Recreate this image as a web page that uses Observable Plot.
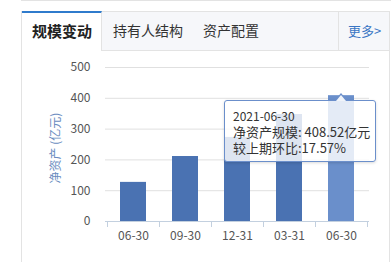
<!DOCTYPE html>
<html><head><meta charset="utf-8">
<script src="https://cdn.jsdelivr.net/npm/d3@7"></script>
<script src="https://cdn.jsdelivr.net/npm/@observablehq/plot@0.6"></script>
<style>
html,body{margin:0;padding:0;background:#fff;}
body{width:391px;height:262px;overflow:hidden;font-family:"Noto Sans CJK SC","Microsoft YaHei",sans-serif;}
#wrap{position:relative;width:391px;height:262px;}
.abs{position:absolute;}
.topline{left:21px;top:0;width:370px;height:1px;background:#e3e3e3;}
.vline{width:1px;background:#e3e3e3;}
.tabbar{left:22px;top:11px;width:367px;height:38px;background:#f6f7fa;border-top:1px solid #e3e3e3;border-bottom:1px solid #e3e3e3;}
.active{left:22px;top:11px;width:80px;height:40px;background:#fff;border-top:2px solid #2f7bcc;border-right:1px solid #e3e3e3;box-sizing:border-box;}
.tab{top:11px;height:39px;line-height:39px;font-size:14px;color:#333;white-space:nowrap;}
.more{top:11px;height:39px;line-height:39px;font-size:13px;color:#3a76c4;white-space:nowrap;}
#chart{left:0;top:50px;}
#ytitle{left:55px;top:148px;transform:translate(-50%,-50%) rotate(-90deg);font-size:12px;color:#6a8cc0;white-space:nowrap;line-height:14px;}
#tip{background:rgba(255,255,255,0.82);border:1px solid #6b8fcb;border-radius:3px;box-shadow:0 1px 3px rgba(0,0,0,0.15);color:#333;font-size:13px;line-height:16px;padding:7px 8px 6px 8px;white-space:nowrap;box-sizing:border-box;}
#tip .d{font-size:12px;}
#arrow{width:0;height:0;border-left:6px solid transparent;border-right:6px solid transparent;border-bottom:7px solid #6b8fcb;}
#arrow2{width:0;height:0;border-left:5px solid transparent;border-right:5px solid transparent;border-bottom:6px solid rgba(255,255,255,0.9);}
</style>
</head><body>
<div id="wrap">
  <div class="abs topline"></div>
  <div class="abs tabbar"></div>
  <div class="abs vline" style="left:338px;top:12px;height:38px;"></div>
  <div class="abs active"></div>
  <div class="abs vline" style="left:21px;top:11px;height:251px;"></div>
  <div class="abs vline" style="left:389px;top:11px;height:251px;"></div>
  <div class="abs tab" style="left:32px;font-size:15px;font-weight:bold;color:#222;">规模变动</div>
  <div class="abs tab" style="left:113px;">持有人结构</div>
  <div class="abs tab" style="left:203px;">资产配置</div>
  <div class="abs more" style="left:348px;">更多&gt;</div>
  <div class="abs" id="chart"></div>
  <div class="abs" id="ytitle"></div>
</div>
<script>
const dates = ["2020-06-30","2020-09-30","2020-12-31","2021-03-31","2021-06-30"];
const tickLabels = ["06-30","09-30","12-31","03-31","06-30"];
const netAssets = [127, 211, 273, 347.47, 408.52];
const yTicks = [0, 100, 200, 300, 400, 500];
const yTitle = "净资产 (亿元)";
const tipDate = "2021-06-30";
const tipValue = "408.52亿元";
const tipChange = "17.57%";

const baseColor = "#4a72b2";
const hoverColor = "#6a8fcb";
const hoverIndex = dates.length - 1;

const rows = dates.map((d, i) => ({date: d, value: netAssets[i], i}));
const labelOf = new Map(dates.map((d, i) => [d, tickLabels[i]]));

document.getElementById("ytitle").textContent = yTitle;

const plot = Plot.plot({
  width: 391,
  height: 212,
  marginLeft: 105,
  marginRight: 22,
  marginTop: 17,
  marginBottom: 41,
  style: {fontFamily: '"Noto Sans CJK SC","Microsoft YaHei",sans-serif', fontSize: "12px", background: "transparent"},
  x: {domain: dates, paddingInner: 0.5, paddingOuter: 0.25},
  y: {domain: [0, 500]},
  marks: [
    Plot.gridY(yTicks.filter(t => t > 0), {stroke: "#e0e0e0", strokeOpacity: 1}),
    Plot.axisY(yTicks, {tickSize: 0, tickPadding: 15, label: null, color: "#555", fontSize: 12}),
    Plot.barY(rows, {x: "date", y: "value", fill: d => d.i === hoverIndex ? hoverColor : baseColor}),
    Plot.ruleY([0], {stroke: "#c3d0df"}),
    Plot.axisX({tickSize: 0, tickPadding: 10, label: null, color: "#555", fontSize: 12, tickFormat: d => labelOf.get(d)})
  ]
});
document.getElementById("chart").appendChild(plot);

// category boundary ticks below the x axis, placed from Plot's own band scale
const xs = plot.scale("x"), ys = plot.scale("y");
const step = xs.step ?? ((xs.range[1] - xs.range[0]) / dates.length);
const bw = xs.bandwidth ?? step / 2;
const y0 = ys.apply(0);
const bounds = dates.map(d => xs.apply(d) - (step - bw) / 2);
bounds.push(bounds[bounds.length - 1] + step);
d3.select(plot).append("g").attr("stroke", "#c3d0df")
  .selectAll("line").data(bounds).join("line")
  .attr("x1", d => Math.round(d) + 0.5).attr("x2", d => Math.round(d) + 0.5)
  .attr("y1", y0).attr("y2", y0 + 6);

// tooltip anchored on the hovered bar
const ax = xs.apply(dates[hoverIndex]) + bw / 2;
const ay = 50 + ys.apply(netAssets[hoverIndex]);
const wrap = document.getElementById("wrap");
const arrow = document.createElement("div");
arrow.id = "arrow"; arrow.className = "abs";
arrow.style.left = (ax - 6) + "px"; arrow.style.top = (ay - 2) + "px";
const tip = document.createElement("div");
tip.id = "tip"; tip.className = "abs";
tip.style.left = (ax - 117) + "px"; tip.style.top = (ay + 5) + "px";
tip.style.width = "152px"; tip.style.height = "62px";
tip.innerHTML = `<div class="d">${tipDate}</div><div>净资产规模: ${tipValue}</div><div>较上期环比:${tipChange}</div>`;
const arrow2 = document.createElement("div");
arrow2.id = "arrow2"; arrow2.className = "abs";
arrow2.style.left = (ax - 5) + "px"; arrow2.style.top = (ay) + "px";
wrap.appendChild(tip);
wrap.appendChild(arrow);
wrap.appendChild(arrow2);
</script>
</body></html>
